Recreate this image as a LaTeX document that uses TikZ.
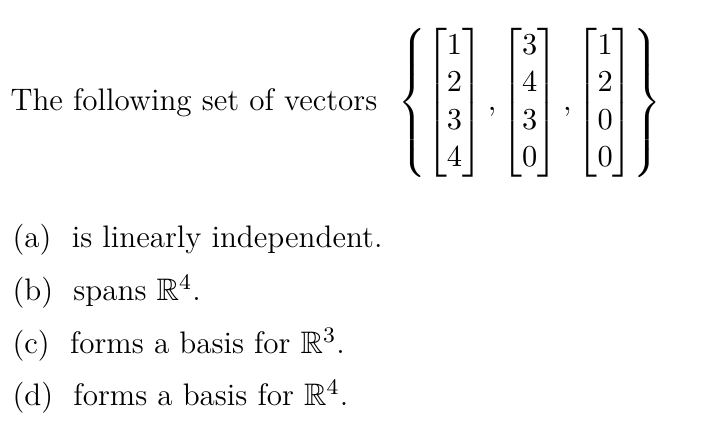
\documentclass[tikz,border=0pt]{standalone}
\usepackage{amsmath,amssymb}
\begin{document}
\begin{tikzpicture}[x=0.36pt,y=-0.36pt,every node/.style={font=\fontsize{11.2}{13.5}\selectfont},txt/.style={anchor=west,inner sep=0pt}]
\useasboundingbox (0,0) rectangle (716,436);
\node[txt] (q) at (10,103) {The following set of vectors};
\node[anchor=west,inner sep=0pt] (m) at (398,103) {$\left\{\begin{bmatrix}1\\2\\3\\4\end{bmatrix},\begin{bmatrix}3\\4\\3\\0\end{bmatrix},\begin{bmatrix}1\\2\\0\\0\end{bmatrix}\right\}$};
\node[txt] (a) at (12,240) {(a)\ \ is linearly independent.};
\node[txt] (b) at (12,292) {(b)\ \ spans $\mathbb{R}^4$.};
\node[txt] (c) at (12,345) {(c)\ \ forms a basis for $\mathbb{R}^3$.};
\node[txt] (d) at (12,397) {(d)\ \ forms a basis for $\mathbb{R}^4$.};
\end{tikzpicture}
\end{document}
